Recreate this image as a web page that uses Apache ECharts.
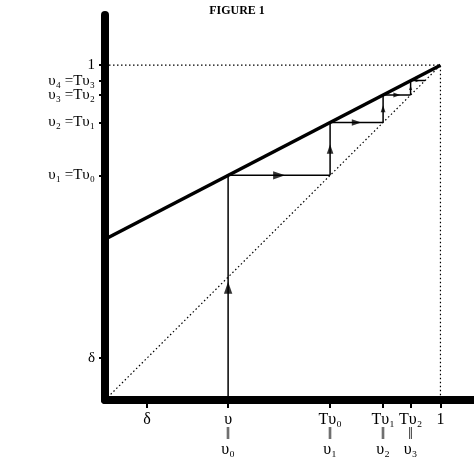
<!DOCTYPE html>
<html><head><meta charset="utf-8">
<script src="https://cdn.jsdelivr.net/npm/echarts@6/dist/echarts.min.js"></script>
<style>html,body{margin:0;background:#fff}#main{width:474px;height:467px}</style>
</head><body><div id="main"></div>
<script>
// T(u) = a + b*u, iterated from u0
var intercept = 0.48, slope = 0.52;
var delta = 0.125;
var iterates = [0.367, 0.671, 0.829, 0.911, 0.954];
var xTickLabels = ['δ', 'υ\n‖\nυ₀', 'Tυ₀\n‖\nυ₁', 'Tυ₁\n‖\nυ₂', 'Tυ₂\n‖\nυ₃', '1'];
var yTickLabels = ['δ', 'υ₁ =Tυ₀', 'υ₂ =Tυ₁', 'υ₃ =Tυ₂', 'υ₄ =Tυ₃', '1'];

var xTicks = [delta, iterates[0], iterates[1], iterates[2], iterates[3], 1];
var yTicks = [delta, iterates[1], iterates[2], iterates[3], iterates[4], 1];
var font = 'Liberation Serif';

var series = [
  {type: 'line', data: [[0, intercept], [1, intercept + slope]], symbol: 'none',
   lineStyle: {color: '#000', width: 3.5}},
  {type: 'line', data: [[0, 0], [1, 1]], symbol: 'none',
   lineStyle: {color: '#000', width: 1.2, type: [1.5, 2.5]}},
  {type: 'line', data: [[0, 1], [1, 1], [1, 0]], symbol: 'none',
   lineStyle: {color: '#000', width: 1.2, type: [1.5, 2.5]}}
];
var arrows = [];
for (var i = 0; i < 4; i++) {
  var u = iterates[i], v = iterates[i + 1];
  var start = i === 0 ? 0 : u;
  series.push({type: 'line', data: [[u, start], [u, v], [v, v]], symbol: 'none',
    lineStyle: {color: '#000', width: 1.5}});
  var s = 12 - i * 2.5;
  arrows.push({value: [u, (start + v) / 2], symbolRotate: 0, symbolSize: [s * 0.7, s]});
  arrows.push({value: [(u + v) / 2, v], symbolRotate: -90, symbolSize: [s * 0.7, s]});
}
series.push({type: 'scatter', symbol: 'triangle', data: arrows, itemStyle: {color: '#000'}, z: 5});

function lookup(vals, labels) {
  return function (v) {
    for (var k = 0; k < vals.length; k++) if (Math.abs(vals[k] - v) < 1e-6) return labels[k];
    return '';
  };
}

var myChart = echarts.init(document.getElementById('main'));
option = {
  backgroundColor: '#fff',
  animation: false,
  title: {text: 'FIGURE 1', left: 'center', top: 0,
    textStyle: {fontFamily: font, fontSize: 12, fontWeight: 'bold', color: '#000'}},
  grid: {left: 105, right: 0, top: 15, bottom: 67},
  xAxis: {type: 'value', min: 0, max: 1.1, splitLine: {show: false},
    axisLine: {lineStyle: {color: '#000', width: 8}},
    axisTick: {customValues: xTicks, length: 8, lineStyle: {color: '#000', width: 2}},
    axisLabel: {customValues: xTicks, formatter: lookup(xTicks, xTickLabels), color: '#000',
      fontFamily: font, fontSize: 16, lineHeight: 15, margin: 12}},
  yAxis: {type: 'value', min: 0, max: 1.15, splitLine: {show: false},
    axisLine: {lineStyle: {color: '#000', width: 8}},
    axisTick: {customValues: yTicks, length: 6, lineStyle: {color: '#000', width: 2}},
    axisLabel: {customValues: yTicks, formatter: lookup(yTicks, yTickLabels), color: '#000',
      fontFamily: font, fontSize: 15, margin: 10}},
  series: series
};
myChart.setOption(option);
window.onresize = myChart.resize;
</script></body></html>
